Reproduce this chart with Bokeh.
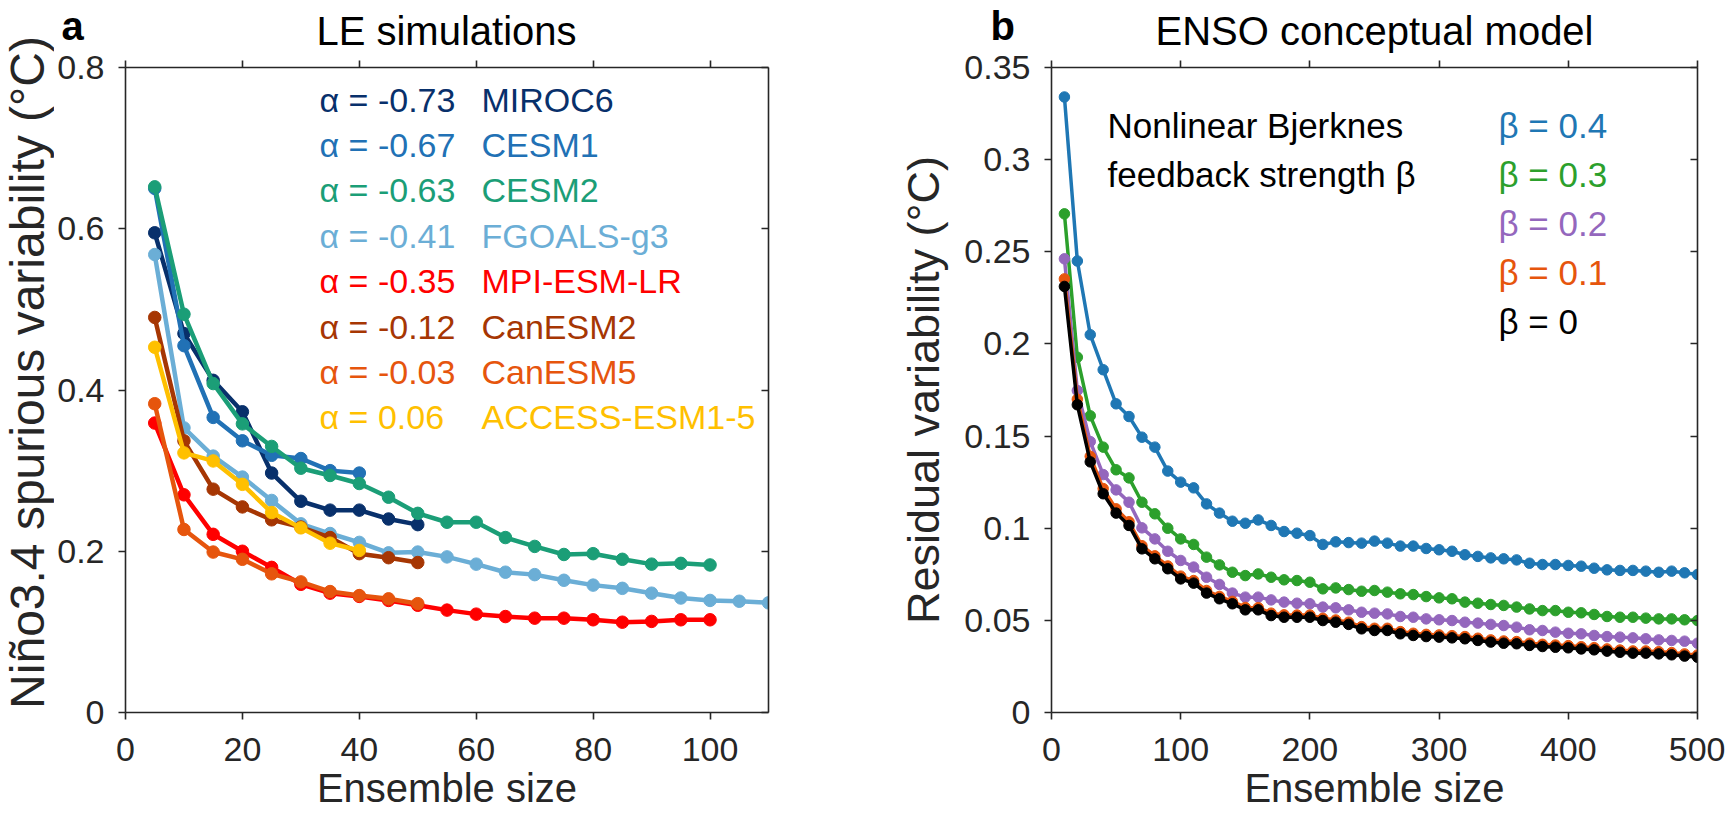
import math
from bokeh.plotting import figure
from bokeh.models import Range1d, FixedTicker, LinearAxis, Label
from bokeh.layouts import row, column
from bokeh.embed import file_html
from bokeh.resources import INLINE

FONT = "Liberation Sans"
AX = "#262626"

# ---------------- Panel a data (LE simulations) ----------------
a_models = ["MIROC6", "CESM1", "CESM2", "FGOALS-g3", "MPI-ESM-LR", "CanESM2", "CanESM5", "ACCESS-ESM1-5"]
a_alpha = ["α = -0.73", "α = -0.67", "α = -0.63", "α = -0.41", "α = -0.35", "α = -0.12", "α = -0.03", "α = 0.06"]
a_colors = ["#08306B", "#2171B5", "#1B9E77", "#6BAED6", "#FF0000", "#A63603", "#E6550D", "#FFC000"]

ens_miroc6 = [5, 10, 15, 20, 25, 30, 35, 40, 45, 50]
var_miroc6 = [0.595, 0.470, 0.412, 0.373, 0.297, 0.262, 0.251, 0.251, 0.240, 0.233]
ens_cesm1 = [5, 10, 15, 20, 25, 30, 35, 40]
var_cesm1 = [0.650, 0.455, 0.366, 0.337, 0.319, 0.315, 0.300, 0.297]
ens_cesm2 = [5, 10, 15, 20, 25, 30, 35, 40, 45, 50, 55, 60, 65, 70, 75, 80, 85, 90, 95, 100]
var_cesm2 = [0.652, 0.494, 0.408, 0.358, 0.330, 0.303, 0.294, 0.284, 0.267, 0.247,
             0.236, 0.236, 0.217, 0.206, 0.196, 0.197, 0.190, 0.184, 0.185, 0.183]
ens_fgoals = [5, 10, 15, 20, 25, 30, 35, 40, 45, 50, 55, 60, 65, 70, 75, 80, 85, 90, 95, 100, 105, 110]
var_fgoals = [0.568, 0.353, 0.318, 0.292, 0.263, 0.234, 0.222, 0.211, 0.198, 0.199, 0.193,
              0.184, 0.174, 0.171, 0.164, 0.158, 0.154, 0.148, 0.142, 0.139, 0.138, 0.136]
ens_mpi = [5, 10, 15, 20, 25, 30, 35, 40, 45, 50, 55, 60, 65, 70, 75, 80, 85, 90, 95, 100]
var_mpi = [0.359, 0.270, 0.221, 0.200, 0.180, 0.159, 0.148, 0.144, 0.139, 0.133,
           0.127, 0.122, 0.119, 0.117, 0.117, 0.115, 0.112, 0.113, 0.115, 0.115]
ens_canesm2 = [5, 10, 15, 20, 25, 30, 35, 40, 45, 50]
var_canesm2 = [0.490, 0.337, 0.277, 0.255, 0.239, 0.230, 0.217, 0.197, 0.192, 0.186]
ens_canesm5 = [5, 10, 15, 20, 25, 30, 35, 40, 45, 50]
var_canesm5 = [0.383, 0.227, 0.199, 0.190, 0.172, 0.162, 0.150, 0.145, 0.141, 0.135]
ens_access = [5, 10, 15, 20, 25, 30, 35, 40]
var_access = [0.453, 0.322, 0.312, 0.283, 0.248, 0.229, 0.210, 0.201]

a_series = [(ens_miroc6, var_miroc6), (ens_cesm1, var_cesm1), (ens_cesm2, var_cesm2),
            (ens_fgoals, var_fgoals), (ens_mpi, var_mpi), (ens_canesm2, var_canesm2),
            (ens_canesm5, var_canesm5), (ens_access, var_access)]

a_xticks = [0, 20, 40, 60, 80, 100]
a_yticks = [0, 0.2, 0.4, 0.6, 0.8]
a_ytick_labels = {0: "0", 0.2: "0.2", 0.4: "0.4", 0.6: "0.6", 0.8: "0.8"}

# ---------------- Panel b data (ENSO conceptual model) ----------------
ens_b = list(range(10, 510, 10))
b_labels = ["β = 0.4", "β = 0.3", "β = 0.2", "β = 0.1", "β = 0"]
b_colors = ["#1F77B4", "#2CA02C", "#9467BD", "#E6550D", "#000000"]

res_b04 = [0.334, 0.245, 0.205, 0.186, 0.1675, 0.1606, 0.1494, 0.1440, 0.1310, 0.1250,
           0.1219, 0.1132, 0.1082, 0.1038, 0.1027, 0.1045, 0.1015, 0.0982, 0.0973, 0.0960,
           0.0912, 0.0926, 0.0922, 0.0919, 0.0930, 0.0919, 0.0903, 0.0903, 0.0890, 0.0883,
           0.0875, 0.0856, 0.0847, 0.0839, 0.0834, 0.0828, 0.0810, 0.0803, 0.0803, 0.0798,
           0.0794, 0.0783, 0.0774, 0.0771, 0.0771, 0.0767, 0.0761, 0.0767, 0.0758, 0.0749]
res_b03 = [0.2706, 0.1928, 0.161, 0.1440, 0.1317, 0.1273, 0.1141, 0.1078, 0.1000, 0.0942,
           0.0912, 0.0843, 0.0801, 0.0761, 0.0743, 0.0752, 0.0734, 0.0720, 0.0716, 0.0707,
           0.0671, 0.0676, 0.0667, 0.0658, 0.0662, 0.0653, 0.0644, 0.0640, 0.0629, 0.0622,
           0.0617, 0.0599, 0.0593, 0.0586, 0.0581, 0.0572, 0.0562, 0.0553, 0.0553, 0.0544,
           0.0541, 0.0532, 0.0521, 0.0517, 0.0517, 0.0512, 0.0508, 0.0508, 0.0503, 0.0499]
res_b02 = [0.2462, 0.1747, 0.147, 0.1291, 0.1208, 0.1141, 0.1002, 0.0942, 0.0875, 0.0825,
           0.0789, 0.0734, 0.0695, 0.0648, 0.0626, 0.0626, 0.0611, 0.0599, 0.0593, 0.0590,
           0.0572, 0.0568, 0.0557, 0.0544, 0.0539, 0.0535, 0.0521, 0.0517, 0.0508, 0.0503,
           0.0499, 0.0490, 0.0485, 0.0478, 0.0472, 0.0463, 0.0449, 0.0445, 0.0436, 0.0430,
           0.0427, 0.0418, 0.0412, 0.0409, 0.0405, 0.0400, 0.0394, 0.0391, 0.0387, 0.0376]
res_b01 = [0.2353, 0.170, 0.139, 0.1215, 0.1105, 0.1035, 0.0905, 0.0850, 0.0795, 0.0740,
           0.0716, 0.0662, 0.0630, 0.0603, 0.0570, 0.0569, 0.0539, 0.0530, 0.0529, 0.0529,
           0.0511, 0.0502, 0.0490, 0.0466, 0.0457, 0.0457, 0.0439, 0.0430, 0.0424, 0.0421,
           0.0417, 0.0412, 0.0403, 0.0394, 0.0388, 0.0385, 0.0376, 0.0370, 0.0366, 0.0363,
           0.0357, 0.0352, 0.0345, 0.0339, 0.0334, 0.0334, 0.0330, 0.0325, 0.0318, 0.0312]
res_b00 = [0.2312, 0.167, 0.136, 0.1187, 0.1082, 0.1015, 0.0888, 0.0834, 0.0780, 0.0725,
           0.0702, 0.0648, 0.0617, 0.0590, 0.0557, 0.0557, 0.0526, 0.0517, 0.0517, 0.0517,
           0.0499, 0.0490, 0.0478, 0.0454, 0.0445, 0.0445, 0.0427, 0.0418, 0.0412, 0.0409,
           0.0405, 0.0400, 0.0391, 0.0382, 0.0376, 0.0373, 0.0364, 0.0358, 0.0354, 0.0351,
           0.0345, 0.0340, 0.0333, 0.0327, 0.0322, 0.0322, 0.0318, 0.0313, 0.0306, 0.0300]
b_series = [res_b04, res_b03, res_b02, res_b01, res_b00]

b_xticks = [0, 100, 200, 300, 400, 500]
b_yticks = [0, 0.05, 0.1, 0.15, 0.2, 0.25, 0.3, 0.35]
b_ytick_labels = {0: "0", 0.05: "0.05", 0.1: "0.1", 0.15: "0.15", 0.2: "0.2",
                  0.25: "0.25", 0.3: "0.3", 0.35: "0.35"}

titles = ["LE simulations", "ENSO conceptual model"]
letters = ["a", "b"]
xlabel = "Ensemble size"
ylabels = ["Niño3.4 spurious variability (°C)", "Residual variability (°C)"]
b_note = ["Nonlinear Bjerknes", "feedback strength β"]

W, H = 1725, 828
STRIP_W = 54
HEADER_H = 53
BODY_H = H - HEADER_H
FRAME_TOP = 67
FRAME_H = 645
TICK_FS = "34px"
XLABEL_FS = "40px"


def style_axis(ax, tick_in=0, tick_out=7, show_labels=True, standoff=15):
    ax.axis_line_color = AX
    ax.axis_line_width = 1.6
    ax.major_tick_line_color = AX
    ax.major_tick_line_width = 1.6
    ax.major_tick_in = tick_in
    ax.major_tick_out = tick_out
    ax.minor_tick_line_color = None
    ax.major_label_text_font = FONT
    ax.major_label_standoff = standoff
    if show_labels:
        ax.major_label_text_font_size = TICK_FS
        ax.major_label_text_color = AX
    else:
        ax.major_label_text_font_size = "0px"
        ax.major_label_text_color = None
        ax.major_label_standoff = 0
    ax.axis_label_text_font = FONT
    ax.axis_label_text_font_style = "normal"
    ax.axis_label_text_color = AX


def make_fig(width, left, right, xr, yr, xticks, yticks, ylab_over):
    top_border = FRAME_TOP - HEADER_H
    p = figure(width=width, height=BODY_H, x_range=Range1d(*xr), y_range=Range1d(*yr),
               min_border_left=left, min_border_right=right,
               min_border_top=top_border, min_border_bottom=BODY_H - top_border - FRAME_H,
               output_backend="svg", toolbar_location=None,
               background_fill_color="white", border_fill_color="white")
    p.outline_line_color = None
    p.grid.visible = False
    bottom_ax = p.below[0]
    left_ax = p.left[0]
    bottom_ax.ticker = FixedTicker(ticks=xticks)
    left_ax.ticker = FixedTicker(ticks=yticks)
    left_ax.major_label_overrides = ylab_over
    style_axis(bottom_ax, standoff=18)
    style_axis(left_ax, standoff=14)
    bottom_ax.axis_label = xlabel
    bottom_ax.axis_label_text_font_size = XLABEL_FS
    bottom_ax.axis_label_standoff = 2
    top = LinearAxis(ticker=FixedTicker(ticks=xticks))
    style_axis(top, show_labels=False)
    p.add_layout(top, "above")
    rgt = LinearAxis(ticker=FixedTicker(ticks=yticks))
    style_axis(rgt, tick_in=7, tick_out=0, show_labels=False)
    p.add_layout(rgt, "right")
    return p, left_ax


def blank_fig(width, height):
    f = figure(width=width, height=height, x_range=Range1d(0, width), y_range=Range1d(0, height),
               x_axis_type=None, y_axis_type=None, min_border=0, output_backend="svg",
               toolbar_location=None, background_fill_color="white", border_fill_color="white")
    f.outline_line_color = None
    f.grid.visible = False
    return f


def add_text(p, x, y, text, size, color="black", align="left", bold=False, angle=0.0):
    p.add_layout(Label(x=x, y=y, x_units="screen", y_units="screen", text=text,
                       text_font=FONT, text_font_size=size, text_color=color,
                       text_align=align, text_baseline="middle", angle=angle,
                       text_font_style="bold" if bold else "normal"))


# ---- full-height strip at the left with the y label of panel a ----
ystrip = blank_fig(STRIP_W, H)
add_text(ystrip, 27, H - 372, ylabels[0], "48px", color=AX, align="center", angle=math.pi / 2)

# ---- header strip: panel letters and titles (x from x=STRIP_W, y from strip bottom) ----
hdr = blank_fig(W - STRIP_W, HEADER_H)
add_text(hdr, 61 - STRIP_W, HEADER_H - 25, letters[0], "40px", bold=True)
add_text(hdr, 446 - STRIP_W, HEADER_H - 30.5, titles[0], "40px", align="center")
add_text(hdr, 990 - STRIP_W, HEADER_H - 25, letters[1], "40px", bold=True)
add_text(hdr, 1374 - STRIP_W, HEADER_H - 30.5, titles[1], "40px", align="center")

# ---- panel a: frame 644 x 645 px, left edge at x=124 ----
pa, pa_left = make_fig(W - STRIP_W - 855, 124 - STRIP_W, 102, (0, 110), (0, 0.8),
                       a_xticks, a_yticks, a_ytick_labels)
for (xs, ys), c in zip(a_series, a_colors):
    pa.line(xs, ys, line_color=c, line_width=4.5)
    pa.scatter(xs, ys, size=12.5, fill_color=c, line_color=c)

for i, (al, nm, c) in enumerate(zip(a_alpha, a_models, a_colors)):
    yc = FRAME_H - (32 + 45.4 * i)
    add_text(pa, 194, yc, al, "34px", color=c)
    add_text(pa, 356, yc, nm, "34px", color=c)

# ---- panel b: frame 646 x 645 px, left edge at x=1051 ----
pb, pb_left = make_fig(855, 181, 28, (0, 500), (0, 0.35), b_xticks, b_yticks, b_ytick_labels)
pb_left.axis_label = ylabels[1]
pb_left.axis_label_text_font_size = "45px"
pb_left.axis_label_standoff = 12
for ys, c in zip(b_series, b_colors):
    pb.line(ens_b, ys, line_color=c, line_width=3.5)
    pb.scatter(ens_b, ys, size=10.5, fill_color=c, line_color=c)

add_text(pb, 56, FRAME_H - 57.5, b_note[0], "35px")
add_text(pb, 56, FRAME_H - 106.5, b_note[1], "35px")
for i, (lb, c) in enumerate(zip(b_labels, b_colors)):
    add_text(pb, 447, FRAME_H - 57.5 - 49 * i, lb, "35px", color=c)

layout = row(ystrip, column(hdr, row(pa, pb)))
open("out.html", "w").write(file_html(layout, INLINE))
